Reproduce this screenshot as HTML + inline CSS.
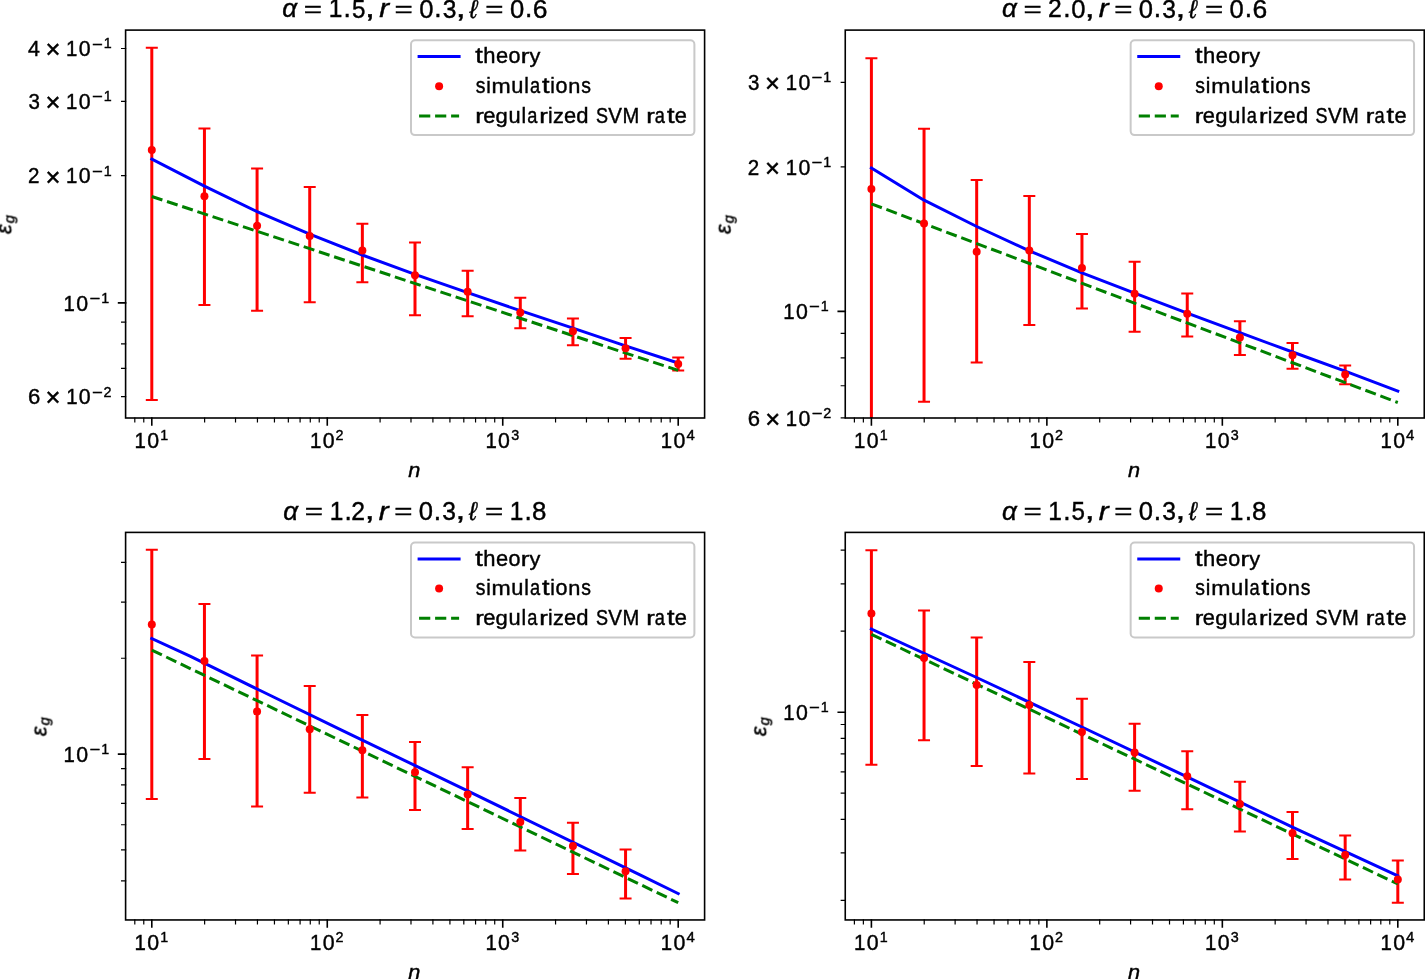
<!DOCTYPE html><html><head><meta charset="utf-8"><title>figure</title><style>html,body{margin:0;padding:0;background:#fff;}svg{display:block;font-family:"Liberation Sans",sans-serif;}</style></head><body>
<svg width="1425" height="979" viewBox="0 0 1425 979">
<rect x="0" y="0" width="1425" height="979" fill="#fff"/>
<clipPath id="clipTL"><rect x="125.60" y="30.10" width="579.00" height="387.90"/></clipPath>
<g clip-path="url(#clipTL)">
<path d="M151.80 47.80V400.00M204.44 128.50V304.90M257.08 168.50V310.80M309.72 186.90V302.20M362.36 223.70V282.20M415.00 242.50V315.20M467.65 270.80V316.20M520.29 297.70V328.30M572.93 318.50V345.30M625.57 338.00V358.70M678.21 357.40V370.40" stroke="#ff0000" stroke-width="3" fill="none"/>
<path d="M145.80 47.80H157.80M145.80 400.00H157.80M198.44 128.50H210.44M198.44 304.90H210.44M251.08 168.50H263.08M251.08 310.80H263.08M303.72 186.90H315.72M303.72 302.20H315.72M356.36 223.70H368.36M356.36 282.20H368.36M409.00 242.50H421.00M409.00 315.20H421.00M461.65 270.80H473.65M461.65 316.20H473.65M514.29 297.70H526.29M514.29 328.30H526.29M566.93 318.50H578.93M566.93 345.30H578.93M619.57 338.00H631.57M619.57 358.70H631.57M672.21 357.40H684.21M672.21 370.40H684.21" stroke="#ff0000" stroke-width="2" fill="none"/>
<path d="M151.80 159.20 L204.44 186.20 L257.08 211.70 L309.72 234.20 L362.36 255.00 L415.00 274.30 L467.65 292.70 L520.29 310.70 L572.93 328.20 L625.57 345.80 L678.21 363.00" stroke="#0000ff" stroke-width="3" fill="none" stroke-linecap="square" stroke-linejoin="round"/>
<path d="M151.80 196.50L678.21 370.40" stroke="#008000" stroke-width="3" fill="none" stroke-dasharray="11.17 4.83"/>
<g fill="#ff0000"><circle cx="151.80" cy="150.00" r="4"/><circle cx="204.44" cy="196.30" r="4"/><circle cx="257.08" cy="225.80" r="4"/><circle cx="309.72" cy="235.90" r="4"/><circle cx="362.36" cy="250.60" r="4"/><circle cx="415.00" cy="275.30" r="4"/><circle cx="467.65" cy="291.70" r="4"/><circle cx="520.29" cy="312.50" r="4"/><circle cx="572.93" cy="331.30" r="4"/><circle cx="625.57" cy="348.20" r="4"/><circle cx="678.21" cy="364.00" r="4"/></g>
</g>
<rect x="125.60" y="30.10" width="579.00" height="387.90" fill="none" stroke="#000" stroke-width="1.6" stroke-linejoin="miter"/>
<path d="M151.80 418.00v7M327.27 418.00v7M502.74 418.00v7M678.21 418.00v7M125.60 302.87h-7" stroke="#000" stroke-width="1.6" fill="none" stroke-linecap="square"/>
<path d="M134.80 418.00v4M143.77 418.00v4M204.62 418.00v4M235.52 418.00v4M257.44 418.00v4M274.45 418.00v4M288.34 418.00v4M300.09 418.00v4M310.27 418.00v4M319.24 418.00v4M380.09 418.00v4M410.99 418.00v4M432.91 418.00v4M449.92 418.00v4M463.81 418.00v4M475.56 418.00v4M485.74 418.00v4M494.71 418.00v4M555.56 418.00v4M586.46 418.00v4M608.38 418.00v4M625.39 418.00v4M639.28 418.00v4M651.03 418.00v4M661.21 418.00v4M670.18 418.00v4M125.60 396.60h-4M125.60 368.32h-4M125.60 343.81h-4M125.60 322.20h-4M125.60 175.68h-4M125.60 101.29h-4M125.60 48.50h-4" stroke="#000" stroke-width="1.2" fill="none" stroke-linecap="square"/>
<g style="will-change:transform"><text transform="matrix(1.0068 0 0 1.0596 134.45 447.85)" font-size="20.24" fill="#000" stroke="#000" stroke-width="0.4">1</text><text transform="matrix(1.0541 0 0 1.0683 147.16 447.93)" font-size="20.24" fill="#000" stroke="#000" stroke-width="0.4">0</text><text transform="matrix(1.0068 0 0 1.0596 160.21 440.19)" font-size="14.17" fill="#000" stroke="#000" stroke-width="0.4">1</text><text transform="matrix(1.0068 0 0 1.0596 309.92 447.85)" font-size="20.24" fill="#000" stroke="#000" stroke-width="0.4">1</text><text transform="matrix(1.0541 0 0 1.0683 322.63 447.93)" font-size="20.24" fill="#000" stroke="#000" stroke-width="0.4">0</text><text transform="matrix(1.0161 0 0 1.0629 335.52 440.19)" font-size="14.17" fill="#000" stroke="#000" stroke-width="0.4">2</text><text transform="matrix(1.0068 0 0 1.0596 485.39 447.85)" font-size="20.24" fill="#000" stroke="#000" stroke-width="0.4">1</text><text transform="matrix(1.0541 0 0 1.0683 498.10 447.93)" font-size="20.24" fill="#000" stroke="#000" stroke-width="0.4">0</text><text transform="matrix(1.0124 0 0 1.0683 511.21 440.25)" font-size="14.17" fill="#000" stroke="#000" stroke-width="0.4">3</text><text transform="matrix(1.0068 0 0 1.0596 660.86 447.85)" font-size="20.24" fill="#000" stroke="#000" stroke-width="0.4">1</text><text transform="matrix(1.0541 0 0 1.0683 673.57 447.93)" font-size="20.24" fill="#000" stroke="#000" stroke-width="0.4">0</text><text transform="matrix(1.0543 0 0 1.0596 686.49 440.19)" font-size="14.17" fill="#000" stroke="#000" stroke-width="0.4">4</text><text transform="matrix(1.0068 0 0 1.0596 63.53 310.52)" font-size="20.24" fill="#000" stroke="#000" stroke-width="0.4">1</text><text transform="matrix(1.0541 0 0 1.0683 76.24 310.60)" font-size="20.24" fill="#000" stroke="#000" stroke-width="0.4">0</text><text transform="matrix(1.2884 0 0 1.1644 89.42 303.91)" font-size="14.17" fill="#000" stroke="#000" stroke-width="0.4">−</text><text transform="matrix(1.0068 0 0 1.0596 101.16 302.86)" font-size="14.17" fill="#000" stroke="#000" stroke-width="0.4">1</text><text transform="matrix(1.0910 0 0 1.0683 28.02 404.33)" font-size="20.24" fill="#000" stroke="#000" stroke-width="0.4">6</text><text transform="matrix(1.2651 0 0 1.2670 45.56 406.45)" font-size="20.24" fill="#000" stroke="#000" stroke-width="0.4">×</text><text transform="matrix(1.0068 0 0 1.0596 66.14 404.25)" font-size="20.24" fill="#000" stroke="#000" stroke-width="0.4">1</text><text transform="matrix(1.0541 0 0 1.0683 78.85 404.33)" font-size="20.24" fill="#000" stroke="#000" stroke-width="0.4">0</text><text transform="matrix(1.2884 0 0 1.1644 92.03 397.64)" font-size="14.17" fill="#000" stroke="#000" stroke-width="0.4">−</text><text transform="matrix(1.0161 0 0 1.0629 103.62 396.59)" font-size="14.17" fill="#000" stroke="#000" stroke-width="0.4">2</text><text transform="matrix(1.0161 0 0 1.0629 28.06 183.33)" font-size="20.24" fill="#000" stroke="#000" stroke-width="0.4">2</text><text transform="matrix(1.2651 0 0 1.2670 45.45 185.53)" font-size="20.24" fill="#000" stroke="#000" stroke-width="0.4">×</text><text transform="matrix(1.0068 0 0 1.0596 66.03 183.33)" font-size="20.24" fill="#000" stroke="#000" stroke-width="0.4">1</text><text transform="matrix(1.0541 0 0 1.0683 78.74 183.41)" font-size="20.24" fill="#000" stroke="#000" stroke-width="0.4">0</text><text transform="matrix(1.2884 0 0 1.1644 91.92 176.72)" font-size="14.17" fill="#000" stroke="#000" stroke-width="0.4">−</text><text transform="matrix(1.0068 0 0 1.0596 103.66 175.68)" font-size="14.17" fill="#000" stroke="#000" stroke-width="0.4">1</text><text transform="matrix(1.0124 0 0 1.0683 28.38 109.01)" font-size="20.24" fill="#000" stroke="#000" stroke-width="0.4">3</text><text transform="matrix(1.2651 0 0 1.2670 45.45 111.13)" font-size="20.24" fill="#000" stroke="#000" stroke-width="0.4">×</text><text transform="matrix(1.0068 0 0 1.0596 66.03 108.94)" font-size="20.24" fill="#000" stroke="#000" stroke-width="0.4">1</text><text transform="matrix(1.0541 0 0 1.0683 78.74 109.01)" font-size="20.24" fill="#000" stroke="#000" stroke-width="0.4">0</text><text transform="matrix(1.2884 0 0 1.1644 91.92 102.32)" font-size="14.17" fill="#000" stroke="#000" stroke-width="0.4">−</text><text transform="matrix(1.0068 0 0 1.0596 103.66 101.28)" font-size="14.17" fill="#000" stroke="#000" stroke-width="0.4">1</text><text transform="matrix(1.0543 0 0 1.0596 28.11 56.15)" font-size="20.24" fill="#000" stroke="#000" stroke-width="0.4">4</text><text transform="matrix(1.2651 0 0 1.2670 45.45 58.34)" font-size="20.24" fill="#000" stroke="#000" stroke-width="0.4">×</text><text transform="matrix(1.0068 0 0 1.0596 66.03 56.15)" font-size="20.24" fill="#000" stroke="#000" stroke-width="0.4">1</text><text transform="matrix(1.0541 0 0 1.0683 78.74 56.23)" font-size="20.24" fill="#000" stroke="#000" stroke-width="0.4">0</text><text transform="matrix(1.2884 0 0 1.1644 91.92 49.54)" font-size="14.17" fill="#000" stroke="#000" stroke-width="0.4">−</text><text transform="matrix(1.0068 0 0 1.0596 103.66 48.49)" font-size="14.17" fill="#000" stroke="#000" stroke-width="0.4">1</text><text transform="matrix(1.0741 0 0 1.0418 408.35 477.00)" font-size="20.24" font-style="italic" fill="#000" stroke="#000" stroke-width="0.4">n</text><text transform="matrix(1.0721 0 0 1.0429 282.30 17.49)" font-size="24.29" font-style="italic" fill="#000" stroke="#000" stroke-width="0.4">α</text><text transform="matrix(1.2884 0 0 0.8758 303.86 16.85)" font-size="24.29" fill="#000" stroke="#000" stroke-width="0.4">=</text><text transform="matrix(1.0068 0 0 1.0596 328.66 17.45)" font-size="24.29" fill="#000" stroke="#000" stroke-width="0.4">1</text><text transform="matrix(1.0821 0 0 1.1598 343.48 17.45)" font-size="24.29" fill="#000" stroke="#000" stroke-width="0.4">.</text><text transform="matrix(0.9949 0 0 1.0651 351.90 17.54)" font-size="24.29" fill="#000" stroke="#000" stroke-width="0.4">5</text><text transform="matrix(1.4577 0 0 1.0229 365.11 17.09)" font-size="24.29" fill="#000" stroke="#000" stroke-width="0.4">,</text><text transform="matrix(1.2218 0 0 1.0408 379.21 17.45)" font-size="24.29" font-style="italic" fill="#000" stroke="#000" stroke-width="0.4">r</text><text transform="matrix(1.2884 0 0 0.8758 394.59 16.85)" font-size="24.29" fill="#000" stroke="#000" stroke-width="0.4">=</text><text transform="matrix(1.0541 0 0 1.0683 419.19 17.54)" font-size="24.29" fill="#000" stroke="#000" stroke-width="0.4">0</text><text transform="matrix(1.0821 0 0 1.1598 434.22 17.45)" font-size="24.29" fill="#000" stroke="#000" stroke-width="0.4">.</text><text transform="matrix(1.0124 0 0 1.0683 442.64 17.54)" font-size="24.29" fill="#000" stroke="#000" stroke-width="0.4">3</text><text transform="matrix(1.4577 0 0 1.0229 455.85 17.09)" font-size="24.29" fill="#000" stroke="#000" stroke-width="0.4">,</text><text transform="matrix(1.0027 0 0 1.0690 469.41 17.54)" font-size="24.29" font-style="italic" fill="#000" stroke="#000" stroke-width="0.4">ℓ</text><text transform="matrix(1.2884 0 0 0.8758 485.37 16.85)" font-size="24.29" fill="#000" stroke="#000" stroke-width="0.4">=</text><text transform="matrix(1.0541 0 0 1.0683 509.97 17.54)" font-size="24.29" fill="#000" stroke="#000" stroke-width="0.4">0</text><text transform="matrix(1.0821 0 0 1.1598 525.00 17.45)" font-size="24.29" fill="#000" stroke="#000" stroke-width="0.4">.</text><text transform="matrix(1.0910 0 0 1.0683 532.86 17.54)" font-size="24.29" fill="#000" stroke="#000" stroke-width="0.4">6</text></g>
<g style="will-change:transform" transform="translate(11.40 234.55) rotate(-90)"><text transform="matrix(1.0730 0 0 1.0500 0.43 0.08)" font-size="20.24" font-style="italic" fill="#000" stroke="#000" stroke-width="0.4">ε</text><text transform="matrix(1.0340 0 0 1.0308 11.37 3.20)" font-size="14.17" font-style="italic" fill="#000" stroke="#000" stroke-width="0.4">g</text></g>
<rect x="411.00" y="40.25" width="283.40" height="94.85" rx="4" ry="4" fill="#fff" fill-opacity="0.8" stroke="#c9c9c9" stroke-width="2.0"/>
<path d="M419.10 56.60H459.10" stroke="#0000ff" stroke-width="3" stroke-linecap="square"/>
<circle cx="439.10" cy="86.30" r="4" fill="#ff0000"/>
<path d="M419.10 115.90H459.10" stroke="#008000" stroke-width="3" stroke-dasharray="11.17 4.83"/>
<g style="will-change:transform"><text transform="matrix(1.3365 0 0 1.0731 475.23 63.23)" font-size="20.24" fill="#000" stroke="#000" stroke-width="0.4">t</text><text transform="matrix(1.0856 0 0 1.0485 483.35 63.40)" font-size="20.24" fill="#000" stroke="#000" stroke-width="0.4">h</text><text transform="matrix(1.0801 0 0 1.0481 496.05 63.48)" font-size="20.24" fill="#000" stroke="#000" stroke-width="0.4">e</text><text transform="matrix(1.0631 0 0 1.0481 508.53 63.48)" font-size="20.24" fill="#000" stroke="#000" stroke-width="0.4">o</text><text transform="matrix(1.2812 0 0 1.0408 520.82 63.40)" font-size="20.24" fill="#000" stroke="#000" stroke-width="0.4">r</text><text transform="matrix(1.0739 0 0 1.0259 529.57 63.30)" font-size="20.24" fill="#000" stroke="#000" stroke-width="0.4">y</text><text transform="matrix(0.9586 0 0 1.0509 475.66 93.18)" font-size="20.24" fill="#000" stroke="#000" stroke-width="0.4">s</text><text transform="matrix(1.0222 0 0 1.0485 486.17 93.10)" font-size="20.24" fill="#000" stroke="#000" stroke-width="0.4">i</text><text transform="matrix(1.1394 0 0 1.0408 491.58 93.10)" font-size="20.24" fill="#000" stroke="#000" stroke-width="0.4">m</text><text transform="matrix(1.0782 0 0 1.0672 511.29 93.18)" font-size="20.24" fill="#000" stroke="#000" stroke-width="0.4">u</text><text transform="matrix(1.0222 0 0 1.0485 524.33 93.10)" font-size="20.24" fill="#000" stroke="#000" stroke-width="0.4">l</text><text transform="matrix(0.8992 0 0 1.0481 529.88 93.18)" font-size="20.24" fill="#000" stroke="#000" stroke-width="0.4">a</text><text transform="matrix(1.3365 0 0 1.0731 541.97 92.93)" font-size="20.24" fill="#000" stroke="#000" stroke-width="0.4">t</text><text transform="matrix(1.0222 0 0 1.0485 550.30 93.10)" font-size="20.24" fill="#000" stroke="#000" stroke-width="0.4">i</text><text transform="matrix(1.0631 0 0 1.0481 555.61 93.18)" font-size="20.24" fill="#000" stroke="#000" stroke-width="0.4">o</text><text transform="matrix(1.0782 0 0 1.0408 568.17 93.10)" font-size="20.24" fill="#000" stroke="#000" stroke-width="0.4">n</text><text transform="matrix(0.9586 0 0 1.0509 581.17 93.18)" font-size="20.24" fill="#000" stroke="#000" stroke-width="0.4">s</text><text transform="matrix(1.2812 0 0 1.0408 475.22 122.70)" font-size="20.24" fill="#000" stroke="#000" stroke-width="0.4">r</text><text transform="matrix(1.0801 0 0 1.0481 483.16 122.78)" font-size="20.24" fill="#000" stroke="#000" stroke-width="0.4">e</text><text transform="matrix(1.0869 0 0 1.0322 495.62 122.57)" font-size="20.24" fill="#000" stroke="#000" stroke-width="0.4">g</text><text transform="matrix(1.0782 0 0 1.0672 508.58 122.78)" font-size="20.24" fill="#000" stroke="#000" stroke-width="0.4">u</text><text transform="matrix(1.0222 0 0 1.0485 521.62 122.70)" font-size="20.24" fill="#000" stroke="#000" stroke-width="0.4">l</text><text transform="matrix(0.8992 0 0 1.0481 527.17 122.78)" font-size="20.24" fill="#000" stroke="#000" stroke-width="0.4">a</text><text transform="matrix(1.2812 0 0 1.0408 539.25 122.70)" font-size="20.24" fill="#000" stroke="#000" stroke-width="0.4">r</text><text transform="matrix(1.0222 0 0 1.0485 547.98 122.70)" font-size="20.24" fill="#000" stroke="#000" stroke-width="0.4">i</text><text transform="matrix(1.0715 0 0 1.0351 553.07 122.70)" font-size="20.24" fill="#000" stroke="#000" stroke-width="0.4">z</text><text transform="matrix(1.0801 0 0 1.0481 563.89 122.78)" font-size="20.24" fill="#000" stroke="#000" stroke-width="0.4">e</text><text transform="matrix(1.0869 0 0 1.0539 576.34 122.78)" font-size="20.24" fill="#000" stroke="#000" stroke-width="0.4">d</text><text transform="matrix(0.8914 0 0 1.0683 595.95 122.78)" font-size="20.24" fill="#000" stroke="#000" stroke-width="0.4">S</text><text transform="matrix(1.0148 0 0 1.0596 608.35 122.70)" font-size="20.24" fill="#000" stroke="#000" stroke-width="0.4">V</text><text transform="matrix(0.9971 0 0 1.0596 622.46 122.70)" font-size="20.24" fill="#000" stroke="#000" stroke-width="0.4">M</text><text transform="matrix(1.2812 0 0 1.0408 646.14 122.70)" font-size="20.24" fill="#000" stroke="#000" stroke-width="0.4">r</text><text transform="matrix(0.8992 0 0 1.0481 654.79 122.78)" font-size="20.24" fill="#000" stroke="#000" stroke-width="0.4">a</text><text transform="matrix(1.3365 0 0 1.0731 666.88 122.53)" font-size="20.24" fill="#000" stroke="#000" stroke-width="0.4">t</text><text transform="matrix(1.0801 0 0 1.0481 674.87 122.78)" font-size="20.24" fill="#000" stroke="#000" stroke-width="0.4">e</text></g>
<clipPath id="clipTR"><rect x="845.25" y="30.10" width="579.00" height="387.90"/></clipPath>
<g clip-path="url(#clipTR)">
<path d="M871.40 58.20V600.00M924.04 128.80V401.70M976.68 180.10V362.50M1029.32 196.00V325.00M1081.96 233.90V308.50M1134.61 261.70V331.80M1187.25 293.50V336.50M1239.89 321.20V354.90M1292.53 343.00V368.80M1345.17 365.60V384.20" stroke="#ff0000" stroke-width="3" fill="none"/>
<path d="M865.40 58.20H877.40M865.40 600.00H877.40M918.04 128.80H930.04M918.04 401.70H930.04M970.68 180.10H982.68M970.68 362.50H982.68M1023.32 196.00H1035.32M1023.32 325.00H1035.32M1075.96 233.90H1087.96M1075.96 308.50H1087.96M1128.61 261.70H1140.61M1128.61 331.80H1140.61M1181.25 293.50H1193.25M1181.25 336.50H1193.25M1233.89 321.20H1245.89M1233.89 354.90H1245.89M1286.53 343.00H1298.53M1286.53 368.80H1298.53M1339.17 365.60H1351.17M1339.17 384.20H1351.17" stroke="#ff0000" stroke-width="2" fill="none"/>
<path d="M871.40 168.10 L924.04 200.20 L976.68 226.50 L1029.32 250.80 L1081.96 272.80 L1134.61 293.20 L1187.25 313.20 L1239.89 332.70 L1292.53 352.00 L1345.17 371.20 L1397.81 391.10" stroke="#0000ff" stroke-width="3" fill="none" stroke-linecap="square" stroke-linejoin="round"/>
<path d="M871.40 203.80L1397.81 402.50" stroke="#008000" stroke-width="3" fill="none" stroke-dasharray="11.17 4.83"/>
<g fill="#ff0000"><circle cx="871.40" cy="189.10" r="4"/><circle cx="924.04" cy="223.40" r="4"/><circle cx="976.68" cy="251.70" r="4"/><circle cx="1029.32" cy="250.50" r="4"/><circle cx="1081.96" cy="268.00" r="4"/><circle cx="1134.61" cy="293.70" r="4"/><circle cx="1187.25" cy="313.70" r="4"/><circle cx="1239.89" cy="337.60" r="4"/><circle cx="1292.53" cy="355.30" r="4"/><circle cx="1345.17" cy="374.50" r="4"/></g>
</g>
<rect x="845.25" y="30.10" width="579.00" height="387.90" fill="none" stroke="#000" stroke-width="1.6" stroke-linejoin="miter"/>
<path d="M871.40 418.00v7M1046.87 418.00v7M1222.34 418.00v7M1397.81 418.00v7M845.25 311.42h-7" stroke="#000" stroke-width="1.6" fill="none" stroke-linecap="square"/>
<path d="M854.40 418.00v4M863.37 418.00v4M924.22 418.00v4M955.12 418.00v4M977.04 418.00v4M994.05 418.00v4M1007.94 418.00v4M1019.69 418.00v4M1029.87 418.00v4M1038.84 418.00v4M1099.69 418.00v4M1130.59 418.00v4M1152.51 418.00v4M1169.52 418.00v4M1183.41 418.00v4M1195.16 418.00v4M1205.34 418.00v4M1214.31 418.00v4M1275.16 418.00v4M1306.06 418.00v4M1327.98 418.00v4M1344.99 418.00v4M1358.88 418.00v4M1370.63 418.00v4M1380.81 418.00v4M1389.78 418.00v4M845.25 417.91h-4M845.25 385.77h-4M845.25 357.94h-4M845.25 333.38h-4M845.25 166.93h-4M845.25 82.40h-4" stroke="#000" stroke-width="1.2" fill="none" stroke-linecap="square"/>
<g style="will-change:transform"><text transform="matrix(1.0068 0 0 1.0596 854.05 447.85)" font-size="20.24" fill="#000" stroke="#000" stroke-width="0.4">1</text><text transform="matrix(1.0541 0 0 1.0683 866.76 447.93)" font-size="20.24" fill="#000" stroke="#000" stroke-width="0.4">0</text><text transform="matrix(1.0068 0 0 1.0596 879.81 440.19)" font-size="14.17" fill="#000" stroke="#000" stroke-width="0.4">1</text><text transform="matrix(1.0068 0 0 1.0596 1029.52 447.85)" font-size="20.24" fill="#000" stroke="#000" stroke-width="0.4">1</text><text transform="matrix(1.0541 0 0 1.0683 1042.23 447.93)" font-size="20.24" fill="#000" stroke="#000" stroke-width="0.4">0</text><text transform="matrix(1.0161 0 0 1.0629 1055.12 440.19)" font-size="14.17" fill="#000" stroke="#000" stroke-width="0.4">2</text><text transform="matrix(1.0068 0 0 1.0596 1204.99 447.85)" font-size="20.24" fill="#000" stroke="#000" stroke-width="0.4">1</text><text transform="matrix(1.0541 0 0 1.0683 1217.70 447.93)" font-size="20.24" fill="#000" stroke="#000" stroke-width="0.4">0</text><text transform="matrix(1.0124 0 0 1.0683 1230.81 440.25)" font-size="14.17" fill="#000" stroke="#000" stroke-width="0.4">3</text><text transform="matrix(1.0068 0 0 1.0596 1380.46 447.85)" font-size="20.24" fill="#000" stroke="#000" stroke-width="0.4">1</text><text transform="matrix(1.0541 0 0 1.0683 1393.17 447.93)" font-size="20.24" fill="#000" stroke="#000" stroke-width="0.4">0</text><text transform="matrix(1.0543 0 0 1.0596 1406.09 440.19)" font-size="14.17" fill="#000" stroke="#000" stroke-width="0.4">4</text><text transform="matrix(1.0068 0 0 1.0596 783.18 319.07)" font-size="20.24" fill="#000" stroke="#000" stroke-width="0.4">1</text><text transform="matrix(1.0541 0 0 1.0683 795.89 319.15)" font-size="20.24" fill="#000" stroke="#000" stroke-width="0.4">0</text><text transform="matrix(1.2884 0 0 1.1644 809.07 312.46)" font-size="14.17" fill="#000" stroke="#000" stroke-width="0.4">−</text><text transform="matrix(1.0068 0 0 1.0596 820.81 311.41)" font-size="14.17" fill="#000" stroke="#000" stroke-width="0.4">1</text><text transform="matrix(1.0910 0 0 1.0683 747.67 425.63)" font-size="20.24" fill="#000" stroke="#000" stroke-width="0.4">6</text><text transform="matrix(1.2651 0 0 1.2670 765.21 427.75)" font-size="20.24" fill="#000" stroke="#000" stroke-width="0.4">×</text><text transform="matrix(1.0068 0 0 1.0596 785.79 425.56)" font-size="20.24" fill="#000" stroke="#000" stroke-width="0.4">1</text><text transform="matrix(1.0541 0 0 1.0683 798.50 425.63)" font-size="20.24" fill="#000" stroke="#000" stroke-width="0.4">0</text><text transform="matrix(1.2884 0 0 1.1644 811.68 418.95)" font-size="14.17" fill="#000" stroke="#000" stroke-width="0.4">−</text><text transform="matrix(1.0161 0 0 1.0629 823.27 417.90)" font-size="14.17" fill="#000" stroke="#000" stroke-width="0.4">2</text><text transform="matrix(1.0161 0 0 1.0629 747.71 174.58)" font-size="20.24" fill="#000" stroke="#000" stroke-width="0.4">2</text><text transform="matrix(1.2651 0 0 1.2670 765.10 176.77)" font-size="20.24" fill="#000" stroke="#000" stroke-width="0.4">×</text><text transform="matrix(1.0068 0 0 1.0596 785.68 174.58)" font-size="20.24" fill="#000" stroke="#000" stroke-width="0.4">1</text><text transform="matrix(1.0541 0 0 1.0683 798.39 174.65)" font-size="20.24" fill="#000" stroke="#000" stroke-width="0.4">0</text><text transform="matrix(1.2884 0 0 1.1644 811.57 167.96)" font-size="14.17" fill="#000" stroke="#000" stroke-width="0.4">−</text><text transform="matrix(1.0068 0 0 1.0596 823.31 166.92)" font-size="14.17" fill="#000" stroke="#000" stroke-width="0.4">1</text><text transform="matrix(1.0124 0 0 1.0683 748.03 90.13)" font-size="20.24" fill="#000" stroke="#000" stroke-width="0.4">3</text><text transform="matrix(1.2651 0 0 1.2670 765.10 92.25)" font-size="20.24" fill="#000" stroke="#000" stroke-width="0.4">×</text><text transform="matrix(1.0068 0 0 1.0596 785.68 90.05)" font-size="20.24" fill="#000" stroke="#000" stroke-width="0.4">1</text><text transform="matrix(1.0541 0 0 1.0683 798.39 90.13)" font-size="20.24" fill="#000" stroke="#000" stroke-width="0.4">0</text><text transform="matrix(1.2884 0 0 1.1644 811.57 83.44)" font-size="14.17" fill="#000" stroke="#000" stroke-width="0.4">−</text><text transform="matrix(1.0068 0 0 1.0596 823.31 82.40)" font-size="14.17" fill="#000" stroke="#000" stroke-width="0.4">1</text><text transform="matrix(1.0741 0 0 1.0418 1128.00 477.00)" font-size="20.24" font-style="italic" fill="#000" stroke="#000" stroke-width="0.4">n</text><text transform="matrix(1.0721 0 0 1.0429 1001.95 17.49)" font-size="24.29" font-style="italic" fill="#000" stroke="#000" stroke-width="0.4">α</text><text transform="matrix(1.2884 0 0 0.8758 1023.51 16.85)" font-size="24.29" fill="#000" stroke="#000" stroke-width="0.4">=</text><text transform="matrix(1.0161 0 0 1.0629 1048.04 17.45)" font-size="24.29" fill="#000" stroke="#000" stroke-width="0.4">2</text><text transform="matrix(1.0821 0 0 1.1598 1063.13 17.45)" font-size="24.29" fill="#000" stroke="#000" stroke-width="0.4">.</text><text transform="matrix(1.0541 0 0 1.0683 1071.24 17.54)" font-size="24.29" fill="#000" stroke="#000" stroke-width="0.4">0</text><text transform="matrix(1.4577 0 0 1.0229 1084.76 17.09)" font-size="24.29" fill="#000" stroke="#000" stroke-width="0.4">,</text><text transform="matrix(1.2218 0 0 1.0408 1098.86 17.45)" font-size="24.29" font-style="italic" fill="#000" stroke="#000" stroke-width="0.4">r</text><text transform="matrix(1.2884 0 0 0.8758 1114.24 16.85)" font-size="24.29" fill="#000" stroke="#000" stroke-width="0.4">=</text><text transform="matrix(1.0541 0 0 1.0683 1138.84 17.54)" font-size="24.29" fill="#000" stroke="#000" stroke-width="0.4">0</text><text transform="matrix(1.0821 0 0 1.1598 1153.87 17.45)" font-size="24.29" fill="#000" stroke="#000" stroke-width="0.4">.</text><text transform="matrix(1.0124 0 0 1.0683 1162.29 17.54)" font-size="24.29" fill="#000" stroke="#000" stroke-width="0.4">3</text><text transform="matrix(1.4577 0 0 1.0229 1175.50 17.09)" font-size="24.29" fill="#000" stroke="#000" stroke-width="0.4">,</text><text transform="matrix(1.0027 0 0 1.0690 1189.06 17.54)" font-size="24.29" font-style="italic" fill="#000" stroke="#000" stroke-width="0.4">ℓ</text><text transform="matrix(1.2884 0 0 0.8758 1205.02 16.85)" font-size="24.29" fill="#000" stroke="#000" stroke-width="0.4">=</text><text transform="matrix(1.0541 0 0 1.0683 1229.62 17.54)" font-size="24.29" fill="#000" stroke="#000" stroke-width="0.4">0</text><text transform="matrix(1.0821 0 0 1.1598 1244.65 17.45)" font-size="24.29" fill="#000" stroke="#000" stroke-width="0.4">.</text><text transform="matrix(1.0910 0 0 1.0683 1252.51 17.54)" font-size="24.29" fill="#000" stroke="#000" stroke-width="0.4">6</text></g>
<g style="will-change:transform" transform="translate(730.70 234.55) rotate(-90)"><text transform="matrix(1.0730 0 0 1.0500 0.43 0.08)" font-size="20.24" font-style="italic" fill="#000" stroke="#000" stroke-width="0.4">ε</text><text transform="matrix(1.0340 0 0 1.0308 11.37 3.20)" font-size="14.17" font-style="italic" fill="#000" stroke="#000" stroke-width="0.4">g</text></g>
<rect x="1130.65" y="40.25" width="283.40" height="94.85" rx="4" ry="4" fill="#fff" fill-opacity="0.8" stroke="#c9c9c9" stroke-width="2.0"/>
<path d="M1138.75 56.60H1178.75" stroke="#0000ff" stroke-width="3" stroke-linecap="square"/>
<circle cx="1158.75" cy="86.30" r="4" fill="#ff0000"/>
<path d="M1138.75 115.90H1178.75" stroke="#008000" stroke-width="3" stroke-dasharray="11.17 4.83"/>
<g style="will-change:transform"><text transform="matrix(1.3365 0 0 1.0731 1194.88 63.23)" font-size="20.24" fill="#000" stroke="#000" stroke-width="0.4">t</text><text transform="matrix(1.0856 0 0 1.0485 1203.00 63.40)" font-size="20.24" fill="#000" stroke="#000" stroke-width="0.4">h</text><text transform="matrix(1.0801 0 0 1.0481 1215.70 63.48)" font-size="20.24" fill="#000" stroke="#000" stroke-width="0.4">e</text><text transform="matrix(1.0631 0 0 1.0481 1228.18 63.48)" font-size="20.24" fill="#000" stroke="#000" stroke-width="0.4">o</text><text transform="matrix(1.2812 0 0 1.0408 1240.47 63.40)" font-size="20.24" fill="#000" stroke="#000" stroke-width="0.4">r</text><text transform="matrix(1.0739 0 0 1.0259 1249.22 63.30)" font-size="20.24" fill="#000" stroke="#000" stroke-width="0.4">y</text><text transform="matrix(0.9586 0 0 1.0509 1195.31 93.18)" font-size="20.24" fill="#000" stroke="#000" stroke-width="0.4">s</text><text transform="matrix(1.0222 0 0 1.0485 1205.82 93.10)" font-size="20.24" fill="#000" stroke="#000" stroke-width="0.4">i</text><text transform="matrix(1.1394 0 0 1.0408 1211.23 93.10)" font-size="20.24" fill="#000" stroke="#000" stroke-width="0.4">m</text><text transform="matrix(1.0782 0 0 1.0672 1230.94 93.18)" font-size="20.24" fill="#000" stroke="#000" stroke-width="0.4">u</text><text transform="matrix(1.0222 0 0 1.0485 1243.98 93.10)" font-size="20.24" fill="#000" stroke="#000" stroke-width="0.4">l</text><text transform="matrix(0.8992 0 0 1.0481 1249.53 93.18)" font-size="20.24" fill="#000" stroke="#000" stroke-width="0.4">a</text><text transform="matrix(1.3365 0 0 1.0731 1261.62 92.93)" font-size="20.24" fill="#000" stroke="#000" stroke-width="0.4">t</text><text transform="matrix(1.0222 0 0 1.0485 1269.95 93.10)" font-size="20.24" fill="#000" stroke="#000" stroke-width="0.4">i</text><text transform="matrix(1.0631 0 0 1.0481 1275.26 93.18)" font-size="20.24" fill="#000" stroke="#000" stroke-width="0.4">o</text><text transform="matrix(1.0782 0 0 1.0408 1287.82 93.10)" font-size="20.24" fill="#000" stroke="#000" stroke-width="0.4">n</text><text transform="matrix(0.9586 0 0 1.0509 1300.82 93.18)" font-size="20.24" fill="#000" stroke="#000" stroke-width="0.4">s</text><text transform="matrix(1.2812 0 0 1.0408 1194.87 122.70)" font-size="20.24" fill="#000" stroke="#000" stroke-width="0.4">r</text><text transform="matrix(1.0801 0 0 1.0481 1202.81 122.78)" font-size="20.24" fill="#000" stroke="#000" stroke-width="0.4">e</text><text transform="matrix(1.0869 0 0 1.0322 1215.27 122.57)" font-size="20.24" fill="#000" stroke="#000" stroke-width="0.4">g</text><text transform="matrix(1.0782 0 0 1.0672 1228.23 122.78)" font-size="20.24" fill="#000" stroke="#000" stroke-width="0.4">u</text><text transform="matrix(1.0222 0 0 1.0485 1241.27 122.70)" font-size="20.24" fill="#000" stroke="#000" stroke-width="0.4">l</text><text transform="matrix(0.8992 0 0 1.0481 1246.82 122.78)" font-size="20.24" fill="#000" stroke="#000" stroke-width="0.4">a</text><text transform="matrix(1.2812 0 0 1.0408 1258.90 122.70)" font-size="20.24" fill="#000" stroke="#000" stroke-width="0.4">r</text><text transform="matrix(1.0222 0 0 1.0485 1267.63 122.70)" font-size="20.24" fill="#000" stroke="#000" stroke-width="0.4">i</text><text transform="matrix(1.0715 0 0 1.0351 1272.72 122.70)" font-size="20.24" fill="#000" stroke="#000" stroke-width="0.4">z</text><text transform="matrix(1.0801 0 0 1.0481 1283.54 122.78)" font-size="20.24" fill="#000" stroke="#000" stroke-width="0.4">e</text><text transform="matrix(1.0869 0 0 1.0539 1295.99 122.78)" font-size="20.24" fill="#000" stroke="#000" stroke-width="0.4">d</text><text transform="matrix(0.8914 0 0 1.0683 1315.60 122.78)" font-size="20.24" fill="#000" stroke="#000" stroke-width="0.4">S</text><text transform="matrix(1.0148 0 0 1.0596 1328.00 122.70)" font-size="20.24" fill="#000" stroke="#000" stroke-width="0.4">V</text><text transform="matrix(0.9971 0 0 1.0596 1342.11 122.70)" font-size="20.24" fill="#000" stroke="#000" stroke-width="0.4">M</text><text transform="matrix(1.2812 0 0 1.0408 1365.79 122.70)" font-size="20.24" fill="#000" stroke="#000" stroke-width="0.4">r</text><text transform="matrix(0.8992 0 0 1.0481 1374.44 122.78)" font-size="20.24" fill="#000" stroke="#000" stroke-width="0.4">a</text><text transform="matrix(1.3365 0 0 1.0731 1386.53 122.53)" font-size="20.24" fill="#000" stroke="#000" stroke-width="0.4">t</text><text transform="matrix(1.0801 0 0 1.0481 1394.52 122.78)" font-size="20.24" fill="#000" stroke="#000" stroke-width="0.4">e</text></g>
<clipPath id="clipBL"><rect x="125.60" y="532.40" width="579.00" height="387.55"/></clipPath>
<g clip-path="url(#clipBL)">
<path d="M151.80 549.80V798.90M204.44 604.10V759.00M257.08 655.60V806.40M309.72 685.90V792.70M362.36 715.10V797.50M415.00 742.10V810.10M467.65 767.20V828.90M520.29 798.10V850.60M572.93 822.80V874.10M625.57 849.40V898.40" stroke="#ff0000" stroke-width="3" fill="none"/>
<path d="M145.80 549.80H157.80M145.80 798.90H157.80M198.44 604.10H210.44M198.44 759.00H210.44M251.08 655.60H263.08M251.08 806.40H263.08M303.72 685.90H315.72M303.72 792.70H315.72M356.36 715.10H368.36M356.36 797.50H368.36M409.00 742.10H421.00M409.00 810.10H421.00M461.65 767.20H473.65M461.65 828.90H473.65M514.29 798.10H526.29M514.29 850.60H526.29M566.93 822.80H578.93M566.93 874.10H578.93M619.57 849.40H631.57M619.57 898.40H631.57" stroke="#ff0000" stroke-width="2" fill="none"/>
<path d="M151.80 638.60 L190.00 656.20 L257.10 689.00 L340.00 729.30 L467.60 790.90 L640.00 874.80 L678.20 893.60" stroke="#0000ff" stroke-width="3" fill="none" stroke-linecap="square" stroke-linejoin="round"/>
<path d="M151.80 650.10L678.21 902.70" stroke="#008000" stroke-width="3" fill="none" stroke-dasharray="11.17 4.83"/>
<g fill="#ff0000"><circle cx="151.80" cy="624.60" r="4"/><circle cx="204.44" cy="660.90" r="4"/><circle cx="257.08" cy="711.40" r="4"/><circle cx="309.72" cy="729.30" r="4"/><circle cx="362.36" cy="750.30" r="4"/><circle cx="415.00" cy="772.30" r="4"/><circle cx="467.65" cy="794.50" r="4"/><circle cx="520.29" cy="821.90" r="4"/><circle cx="572.93" cy="845.90" r="4"/><circle cx="625.57" cy="871.30" r="4"/></g>
</g>
<rect x="125.60" y="532.40" width="579.00" height="387.55" fill="none" stroke="#000" stroke-width="1.6" stroke-linejoin="miter"/>
<path d="M151.80 919.95v7M327.27 919.95v7M502.74 919.95v7M678.21 919.95v7M125.60 754.10h-7" stroke="#000" stroke-width="1.6" fill="none" stroke-linecap="square"/>
<path d="M134.80 919.95v4M143.77 919.95v4M204.62 919.95v4M235.52 919.95v4M257.44 919.95v4M274.45 919.95v4M288.34 919.95v4M300.09 919.95v4M310.27 919.95v4M319.24 919.95v4M380.09 919.95v4M410.99 919.95v4M432.91 919.95v4M449.92 919.95v4M463.81 919.95v4M475.56 919.95v4M485.74 919.95v4M494.71 919.95v4M555.56 919.95v4M586.46 919.95v4M608.38 919.95v4M625.39 919.95v4M639.28 919.95v4M651.03 919.95v4M661.21 919.95v4M670.18 919.95v4M125.60 880.80h-4M125.60 849.95h-4M125.60 824.74h-4M125.60 803.42h-4M125.60 784.96h-4M125.60 768.67h-4M125.60 658.25h-4M125.60 602.18h-4M125.60 562.40h-4" stroke="#000" stroke-width="1.2" fill="none" stroke-linecap="square"/>
<g style="will-change:transform"><text transform="matrix(1.0068 0 0 1.0596 134.45 949.80)" font-size="20.24" fill="#000" stroke="#000" stroke-width="0.4">1</text><text transform="matrix(1.0541 0 0 1.0683 147.16 949.88)" font-size="20.24" fill="#000" stroke="#000" stroke-width="0.4">0</text><text transform="matrix(1.0068 0 0 1.0596 160.21 942.14)" font-size="14.17" fill="#000" stroke="#000" stroke-width="0.4">1</text><text transform="matrix(1.0068 0 0 1.0596 309.92 949.80)" font-size="20.24" fill="#000" stroke="#000" stroke-width="0.4">1</text><text transform="matrix(1.0541 0 0 1.0683 322.63 949.88)" font-size="20.24" fill="#000" stroke="#000" stroke-width="0.4">0</text><text transform="matrix(1.0161 0 0 1.0629 335.52 942.14)" font-size="14.17" fill="#000" stroke="#000" stroke-width="0.4">2</text><text transform="matrix(1.0068 0 0 1.0596 485.39 949.80)" font-size="20.24" fill="#000" stroke="#000" stroke-width="0.4">1</text><text transform="matrix(1.0541 0 0 1.0683 498.10 949.88)" font-size="20.24" fill="#000" stroke="#000" stroke-width="0.4">0</text><text transform="matrix(1.0124 0 0 1.0683 511.21 942.20)" font-size="14.17" fill="#000" stroke="#000" stroke-width="0.4">3</text><text transform="matrix(1.0068 0 0 1.0596 660.86 949.80)" font-size="20.24" fill="#000" stroke="#000" stroke-width="0.4">1</text><text transform="matrix(1.0541 0 0 1.0683 673.57 949.88)" font-size="20.24" fill="#000" stroke="#000" stroke-width="0.4">0</text><text transform="matrix(1.0543 0 0 1.0596 686.49 942.14)" font-size="14.17" fill="#000" stroke="#000" stroke-width="0.4">4</text><text transform="matrix(1.0068 0 0 1.0596 63.53 761.75)" font-size="20.24" fill="#000" stroke="#000" stroke-width="0.4">1</text><text transform="matrix(1.0541 0 0 1.0683 76.24 761.83)" font-size="20.24" fill="#000" stroke="#000" stroke-width="0.4">0</text><text transform="matrix(1.2884 0 0 1.1644 89.42 755.14)" font-size="14.17" fill="#000" stroke="#000" stroke-width="0.4">−</text><text transform="matrix(1.0068 0 0 1.0596 101.16 754.09)" font-size="14.17" fill="#000" stroke="#000" stroke-width="0.4">1</text><text transform="matrix(1.0741 0 0 1.0418 408.35 978.95)" font-size="20.24" font-style="italic" fill="#000" stroke="#000" stroke-width="0.4">n</text><text transform="matrix(1.0721 0 0 1.0429 283.30 519.79)" font-size="24.29" font-style="italic" fill="#000" stroke="#000" stroke-width="0.4">α</text><text transform="matrix(1.2884 0 0 0.8758 304.86 519.15)" font-size="24.29" fill="#000" stroke="#000" stroke-width="0.4">=</text><text transform="matrix(1.0068 0 0 1.0596 329.66 519.75)" font-size="24.29" fill="#000" stroke="#000" stroke-width="0.4">1</text><text transform="matrix(1.0821 0 0 1.1598 344.48 519.75)" font-size="24.29" fill="#000" stroke="#000" stroke-width="0.4">.</text><text transform="matrix(1.0161 0 0 1.0629 351.15 519.75)" font-size="24.29" fill="#000" stroke="#000" stroke-width="0.4">2</text><text transform="matrix(1.4577 0 0 1.0229 364.74 519.39)" font-size="24.29" fill="#000" stroke="#000" stroke-width="0.4">,</text><text transform="matrix(1.2218 0 0 1.0408 378.84 519.75)" font-size="24.29" font-style="italic" fill="#000" stroke="#000" stroke-width="0.4">r</text><text transform="matrix(1.2884 0 0 0.8758 394.22 519.15)" font-size="24.29" fill="#000" stroke="#000" stroke-width="0.4">=</text><text transform="matrix(1.0541 0 0 1.0683 418.82 519.84)" font-size="24.29" fill="#000" stroke="#000" stroke-width="0.4">0</text><text transform="matrix(1.0821 0 0 1.1598 433.84 519.75)" font-size="24.29" fill="#000" stroke="#000" stroke-width="0.4">.</text><text transform="matrix(1.0124 0 0 1.0683 442.26 519.84)" font-size="24.29" fill="#000" stroke="#000" stroke-width="0.4">3</text><text transform="matrix(1.4577 0 0 1.0229 455.47 519.39)" font-size="24.29" fill="#000" stroke="#000" stroke-width="0.4">,</text><text transform="matrix(1.0027 0 0 1.0690 469.04 519.84)" font-size="24.29" font-style="italic" fill="#000" stroke="#000" stroke-width="0.4">ℓ</text><text transform="matrix(1.2884 0 0 0.8758 485.00 519.15)" font-size="24.29" fill="#000" stroke="#000" stroke-width="0.4">=</text><text transform="matrix(1.0068 0 0 1.0596 509.80 519.75)" font-size="24.29" fill="#000" stroke="#000" stroke-width="0.4">1</text><text transform="matrix(1.0821 0 0 1.1598 524.62 519.75)" font-size="24.29" fill="#000" stroke="#000" stroke-width="0.4">.</text><text transform="matrix(1.0656 0 0 1.0683 532.03 519.84)" font-size="24.29" fill="#000" stroke="#000" stroke-width="0.4">8</text></g>
<g style="will-change:transform" transform="translate(46.50 736.67) rotate(-90)"><text transform="matrix(1.0730 0 0 1.0500 0.43 0.08)" font-size="20.24" font-style="italic" fill="#000" stroke="#000" stroke-width="0.4">ε</text><text transform="matrix(1.0340 0 0 1.0308 11.37 3.20)" font-size="14.17" font-style="italic" fill="#000" stroke="#000" stroke-width="0.4">g</text></g>
<rect x="411.00" y="542.55" width="283.40" height="94.85" rx="4" ry="4" fill="#fff" fill-opacity="0.8" stroke="#c9c9c9" stroke-width="2.0"/>
<path d="M419.10 558.90H459.10" stroke="#0000ff" stroke-width="3" stroke-linecap="square"/>
<circle cx="439.10" cy="588.60" r="4" fill="#ff0000"/>
<path d="M419.10 618.20H459.10" stroke="#008000" stroke-width="3" stroke-dasharray="11.17 4.83"/>
<g style="will-change:transform"><text transform="matrix(1.3365 0 0 1.0731 475.23 565.53)" font-size="20.24" fill="#000" stroke="#000" stroke-width="0.4">t</text><text transform="matrix(1.0856 0 0 1.0485 483.35 565.70)" font-size="20.24" fill="#000" stroke="#000" stroke-width="0.4">h</text><text transform="matrix(1.0801 0 0 1.0481 496.05 565.78)" font-size="20.24" fill="#000" stroke="#000" stroke-width="0.4">e</text><text transform="matrix(1.0631 0 0 1.0481 508.53 565.78)" font-size="20.24" fill="#000" stroke="#000" stroke-width="0.4">o</text><text transform="matrix(1.2812 0 0 1.0408 520.82 565.70)" font-size="20.24" fill="#000" stroke="#000" stroke-width="0.4">r</text><text transform="matrix(1.0739 0 0 1.0259 529.57 565.60)" font-size="20.24" fill="#000" stroke="#000" stroke-width="0.4">y</text><text transform="matrix(0.9586 0 0 1.0509 475.66 595.48)" font-size="20.24" fill="#000" stroke="#000" stroke-width="0.4">s</text><text transform="matrix(1.0222 0 0 1.0485 486.17 595.40)" font-size="20.24" fill="#000" stroke="#000" stroke-width="0.4">i</text><text transform="matrix(1.1394 0 0 1.0408 491.58 595.40)" font-size="20.24" fill="#000" stroke="#000" stroke-width="0.4">m</text><text transform="matrix(1.0782 0 0 1.0672 511.29 595.48)" font-size="20.24" fill="#000" stroke="#000" stroke-width="0.4">u</text><text transform="matrix(1.0222 0 0 1.0485 524.33 595.40)" font-size="20.24" fill="#000" stroke="#000" stroke-width="0.4">l</text><text transform="matrix(0.8992 0 0 1.0481 529.88 595.48)" font-size="20.24" fill="#000" stroke="#000" stroke-width="0.4">a</text><text transform="matrix(1.3365 0 0 1.0731 541.97 595.23)" font-size="20.24" fill="#000" stroke="#000" stroke-width="0.4">t</text><text transform="matrix(1.0222 0 0 1.0485 550.30 595.40)" font-size="20.24" fill="#000" stroke="#000" stroke-width="0.4">i</text><text transform="matrix(1.0631 0 0 1.0481 555.61 595.48)" font-size="20.24" fill="#000" stroke="#000" stroke-width="0.4">o</text><text transform="matrix(1.0782 0 0 1.0408 568.17 595.40)" font-size="20.24" fill="#000" stroke="#000" stroke-width="0.4">n</text><text transform="matrix(0.9586 0 0 1.0509 581.17 595.48)" font-size="20.24" fill="#000" stroke="#000" stroke-width="0.4">s</text><text transform="matrix(1.2812 0 0 1.0408 475.22 625.00)" font-size="20.24" fill="#000" stroke="#000" stroke-width="0.4">r</text><text transform="matrix(1.0801 0 0 1.0481 483.16 625.08)" font-size="20.24" fill="#000" stroke="#000" stroke-width="0.4">e</text><text transform="matrix(1.0869 0 0 1.0322 495.62 624.87)" font-size="20.24" fill="#000" stroke="#000" stroke-width="0.4">g</text><text transform="matrix(1.0782 0 0 1.0672 508.58 625.08)" font-size="20.24" fill="#000" stroke="#000" stroke-width="0.4">u</text><text transform="matrix(1.0222 0 0 1.0485 521.62 625.00)" font-size="20.24" fill="#000" stroke="#000" stroke-width="0.4">l</text><text transform="matrix(0.8992 0 0 1.0481 527.17 625.08)" font-size="20.24" fill="#000" stroke="#000" stroke-width="0.4">a</text><text transform="matrix(1.2812 0 0 1.0408 539.25 625.00)" font-size="20.24" fill="#000" stroke="#000" stroke-width="0.4">r</text><text transform="matrix(1.0222 0 0 1.0485 547.98 625.00)" font-size="20.24" fill="#000" stroke="#000" stroke-width="0.4">i</text><text transform="matrix(1.0715 0 0 1.0351 553.07 625.00)" font-size="20.24" fill="#000" stroke="#000" stroke-width="0.4">z</text><text transform="matrix(1.0801 0 0 1.0481 563.89 625.08)" font-size="20.24" fill="#000" stroke="#000" stroke-width="0.4">e</text><text transform="matrix(1.0869 0 0 1.0539 576.34 625.08)" font-size="20.24" fill="#000" stroke="#000" stroke-width="0.4">d</text><text transform="matrix(0.8914 0 0 1.0683 595.95 625.08)" font-size="20.24" fill="#000" stroke="#000" stroke-width="0.4">S</text><text transform="matrix(1.0148 0 0 1.0596 608.35 625.00)" font-size="20.24" fill="#000" stroke="#000" stroke-width="0.4">V</text><text transform="matrix(0.9971 0 0 1.0596 622.46 625.00)" font-size="20.24" fill="#000" stroke="#000" stroke-width="0.4">M</text><text transform="matrix(1.2812 0 0 1.0408 646.14 625.00)" font-size="20.24" fill="#000" stroke="#000" stroke-width="0.4">r</text><text transform="matrix(0.8992 0 0 1.0481 654.79 625.08)" font-size="20.24" fill="#000" stroke="#000" stroke-width="0.4">a</text><text transform="matrix(1.3365 0 0 1.0731 666.88 624.83)" font-size="20.24" fill="#000" stroke="#000" stroke-width="0.4">t</text><text transform="matrix(1.0801 0 0 1.0481 674.87 625.08)" font-size="20.24" fill="#000" stroke="#000" stroke-width="0.4">e</text></g>
<clipPath id="clipBR"><rect x="845.25" y="532.40" width="579.00" height="387.55"/></clipPath>
<g clip-path="url(#clipBR)">
<path d="M871.40 550.20V764.70M924.04 610.40V740.20M976.68 637.60V766.10M1029.32 662.10V773.50M1081.96 698.80V779.10M1134.61 723.80V790.80M1187.25 751.30V809.20M1239.89 781.80V831.40M1292.53 812.00V859.00M1345.17 835.50V879.40M1397.81 860.50V902.70" stroke="#ff0000" stroke-width="3" fill="none"/>
<path d="M865.40 550.20H877.40M865.40 764.70H877.40M918.04 610.40H930.04M918.04 740.20H930.04M970.68 637.60H982.68M970.68 766.10H982.68M1023.32 662.10H1035.32M1023.32 773.50H1035.32M1075.96 698.80H1087.96M1075.96 779.10H1087.96M1128.61 723.80H1140.61M1128.61 790.80H1140.61M1181.25 751.30H1193.25M1181.25 809.20H1193.25M1233.89 781.80H1245.89M1233.89 831.40H1245.89M1286.53 812.00H1298.53M1286.53 859.00H1298.53M1339.17 835.50H1351.17M1339.17 879.40H1351.17M1391.81 860.50H1403.81M1391.81 902.70H1403.81" stroke="#ff0000" stroke-width="2" fill="none"/>
<path d="M871.40 629.10 L976.60 677.50 L1081.90 727.00 L1187.10 776.90 L1292.40 827.10 L1397.60 875.80" stroke="#0000ff" stroke-width="3" fill="none" stroke-linecap="square" stroke-linejoin="round"/>
<path d="M871.40 634.30L1397.81 884.00" stroke="#008000" stroke-width="3" fill="none" stroke-dasharray="11.17 4.83"/>
<g fill="#ff0000"><circle cx="871.40" cy="613.50" r="4"/><circle cx="924.04" cy="658.00" r="4"/><circle cx="976.68" cy="685.10" r="4"/><circle cx="1029.32" cy="705.00" r="4"/><circle cx="1081.96" cy="732.10" r="4"/><circle cx="1134.61" cy="752.40" r="4"/><circle cx="1187.25" cy="776.30" r="4"/><circle cx="1239.89" cy="804.00" r="4"/><circle cx="1292.53" cy="833.20" r="4"/><circle cx="1345.17" cy="855.10" r="4"/><circle cx="1397.81" cy="879.60" r="4"/></g>
</g>
<rect x="845.25" y="532.40" width="579.00" height="387.55" fill="none" stroke="#000" stroke-width="1.6" stroke-linejoin="miter"/>
<path d="M871.40 919.95v7M1046.87 919.95v7M1222.34 919.95v7M1397.81 919.95v7M845.25 712.20h-7" stroke="#000" stroke-width="1.6" fill="none" stroke-linecap="square"/>
<path d="M854.40 919.95v4M863.37 919.95v4M924.22 919.95v4M955.12 919.95v4M977.04 919.95v4M994.05 919.95v4M1007.94 919.95v4M1019.69 919.95v4M1029.87 919.95v4M1038.84 919.95v4M1099.69 919.95v4M1130.59 919.95v4M1152.51 919.95v4M1169.52 919.95v4M1183.41 919.95v4M1195.16 919.95v4M1205.34 919.95v4M1214.31 919.95v4M1275.16 919.95v4M1306.06 919.95v4M1327.98 919.95v4M1344.99 919.95v4M1358.88 919.95v4M1370.63 919.95v4M1380.81 919.95v4M1389.78 919.95v4M845.25 900.29h-4M845.25 852.91h-4M845.25 819.29h-4M845.25 793.21h-4M845.25 771.90h-4M845.25 753.88h-4M845.25 738.28h-4M845.25 724.51h-4M845.25 631.19h-4M845.25 583.81h-4M845.25 550.19h-4" stroke="#000" stroke-width="1.2" fill="none" stroke-linecap="square"/>
<g style="will-change:transform"><text transform="matrix(1.0068 0 0 1.0596 854.05 949.80)" font-size="20.24" fill="#000" stroke="#000" stroke-width="0.4">1</text><text transform="matrix(1.0541 0 0 1.0683 866.76 949.88)" font-size="20.24" fill="#000" stroke="#000" stroke-width="0.4">0</text><text transform="matrix(1.0068 0 0 1.0596 879.81 942.14)" font-size="14.17" fill="#000" stroke="#000" stroke-width="0.4">1</text><text transform="matrix(1.0068 0 0 1.0596 1029.52 949.80)" font-size="20.24" fill="#000" stroke="#000" stroke-width="0.4">1</text><text transform="matrix(1.0541 0 0 1.0683 1042.23 949.88)" font-size="20.24" fill="#000" stroke="#000" stroke-width="0.4">0</text><text transform="matrix(1.0161 0 0 1.0629 1055.12 942.14)" font-size="14.17" fill="#000" stroke="#000" stroke-width="0.4">2</text><text transform="matrix(1.0068 0 0 1.0596 1204.99 949.80)" font-size="20.24" fill="#000" stroke="#000" stroke-width="0.4">1</text><text transform="matrix(1.0541 0 0 1.0683 1217.70 949.88)" font-size="20.24" fill="#000" stroke="#000" stroke-width="0.4">0</text><text transform="matrix(1.0124 0 0 1.0683 1230.81 942.20)" font-size="14.17" fill="#000" stroke="#000" stroke-width="0.4">3</text><text transform="matrix(1.0068 0 0 1.0596 1380.46 949.80)" font-size="20.24" fill="#000" stroke="#000" stroke-width="0.4">1</text><text transform="matrix(1.0541 0 0 1.0683 1393.17 949.88)" font-size="20.24" fill="#000" stroke="#000" stroke-width="0.4">0</text><text transform="matrix(1.0543 0 0 1.0596 1406.09 942.14)" font-size="14.17" fill="#000" stroke="#000" stroke-width="0.4">4</text><text transform="matrix(1.0068 0 0 1.0596 783.18 719.85)" font-size="20.24" fill="#000" stroke="#000" stroke-width="0.4">1</text><text transform="matrix(1.0541 0 0 1.0683 795.89 719.93)" font-size="20.24" fill="#000" stroke="#000" stroke-width="0.4">0</text><text transform="matrix(1.2884 0 0 1.1644 809.07 713.24)" font-size="14.17" fill="#000" stroke="#000" stroke-width="0.4">−</text><text transform="matrix(1.0068 0 0 1.0596 820.81 712.19)" font-size="14.17" fill="#000" stroke="#000" stroke-width="0.4">1</text><text transform="matrix(1.0741 0 0 1.0418 1128.00 978.95)" font-size="20.24" font-style="italic" fill="#000" stroke="#000" stroke-width="0.4">n</text><text transform="matrix(1.0721 0 0 1.0429 1001.95 519.79)" font-size="24.29" font-style="italic" fill="#000" stroke="#000" stroke-width="0.4">α</text><text transform="matrix(1.2884 0 0 0.8758 1023.51 519.15)" font-size="24.29" fill="#000" stroke="#000" stroke-width="0.4">=</text><text transform="matrix(1.0068 0 0 1.0596 1048.31 519.75)" font-size="24.29" fill="#000" stroke="#000" stroke-width="0.4">1</text><text transform="matrix(1.0821 0 0 1.1598 1063.13 519.75)" font-size="24.29" fill="#000" stroke="#000" stroke-width="0.4">.</text><text transform="matrix(0.9949 0 0 1.0651 1071.55 519.84)" font-size="24.29" fill="#000" stroke="#000" stroke-width="0.4">5</text><text transform="matrix(1.4577 0 0 1.0229 1084.76 519.39)" font-size="24.29" fill="#000" stroke="#000" stroke-width="0.4">,</text><text transform="matrix(1.2218 0 0 1.0408 1098.86 519.75)" font-size="24.29" font-style="italic" fill="#000" stroke="#000" stroke-width="0.4">r</text><text transform="matrix(1.2884 0 0 0.8758 1114.24 519.15)" font-size="24.29" fill="#000" stroke="#000" stroke-width="0.4">=</text><text transform="matrix(1.0541 0 0 1.0683 1138.84 519.84)" font-size="24.29" fill="#000" stroke="#000" stroke-width="0.4">0</text><text transform="matrix(1.0821 0 0 1.1598 1153.87 519.75)" font-size="24.29" fill="#000" stroke="#000" stroke-width="0.4">.</text><text transform="matrix(1.0124 0 0 1.0683 1162.29 519.84)" font-size="24.29" fill="#000" stroke="#000" stroke-width="0.4">3</text><text transform="matrix(1.4577 0 0 1.0229 1175.50 519.39)" font-size="24.29" fill="#000" stroke="#000" stroke-width="0.4">,</text><text transform="matrix(1.0027 0 0 1.0690 1189.06 519.84)" font-size="24.29" font-style="italic" fill="#000" stroke="#000" stroke-width="0.4">ℓ</text><text transform="matrix(1.2884 0 0 0.8758 1205.02 519.15)" font-size="24.29" fill="#000" stroke="#000" stroke-width="0.4">=</text><text transform="matrix(1.0068 0 0 1.0596 1229.83 519.75)" font-size="24.29" fill="#000" stroke="#000" stroke-width="0.4">1</text><text transform="matrix(1.0821 0 0 1.1598 1244.65 519.75)" font-size="24.29" fill="#000" stroke="#000" stroke-width="0.4">.</text><text transform="matrix(1.0656 0 0 1.0683 1252.06 519.84)" font-size="24.29" fill="#000" stroke="#000" stroke-width="0.4">8</text></g>
<g style="will-change:transform" transform="translate(766.30 736.67) rotate(-90)"><text transform="matrix(1.0730 0 0 1.0500 0.43 0.08)" font-size="20.24" font-style="italic" fill="#000" stroke="#000" stroke-width="0.4">ε</text><text transform="matrix(1.0340 0 0 1.0308 11.37 3.20)" font-size="14.17" font-style="italic" fill="#000" stroke="#000" stroke-width="0.4">g</text></g>
<rect x="1130.65" y="542.55" width="283.40" height="94.85" rx="4" ry="4" fill="#fff" fill-opacity="0.8" stroke="#c9c9c9" stroke-width="2.0"/>
<path d="M1138.75 558.90H1178.75" stroke="#0000ff" stroke-width="3" stroke-linecap="square"/>
<circle cx="1158.75" cy="588.60" r="4" fill="#ff0000"/>
<path d="M1138.75 618.20H1178.75" stroke="#008000" stroke-width="3" stroke-dasharray="11.17 4.83"/>
<g style="will-change:transform"><text transform="matrix(1.3365 0 0 1.0731 1194.88 565.53)" font-size="20.24" fill="#000" stroke="#000" stroke-width="0.4">t</text><text transform="matrix(1.0856 0 0 1.0485 1203.00 565.70)" font-size="20.24" fill="#000" stroke="#000" stroke-width="0.4">h</text><text transform="matrix(1.0801 0 0 1.0481 1215.70 565.78)" font-size="20.24" fill="#000" stroke="#000" stroke-width="0.4">e</text><text transform="matrix(1.0631 0 0 1.0481 1228.18 565.78)" font-size="20.24" fill="#000" stroke="#000" stroke-width="0.4">o</text><text transform="matrix(1.2812 0 0 1.0408 1240.47 565.70)" font-size="20.24" fill="#000" stroke="#000" stroke-width="0.4">r</text><text transform="matrix(1.0739 0 0 1.0259 1249.22 565.60)" font-size="20.24" fill="#000" stroke="#000" stroke-width="0.4">y</text><text transform="matrix(0.9586 0 0 1.0509 1195.31 595.48)" font-size="20.24" fill="#000" stroke="#000" stroke-width="0.4">s</text><text transform="matrix(1.0222 0 0 1.0485 1205.82 595.40)" font-size="20.24" fill="#000" stroke="#000" stroke-width="0.4">i</text><text transform="matrix(1.1394 0 0 1.0408 1211.23 595.40)" font-size="20.24" fill="#000" stroke="#000" stroke-width="0.4">m</text><text transform="matrix(1.0782 0 0 1.0672 1230.94 595.48)" font-size="20.24" fill="#000" stroke="#000" stroke-width="0.4">u</text><text transform="matrix(1.0222 0 0 1.0485 1243.98 595.40)" font-size="20.24" fill="#000" stroke="#000" stroke-width="0.4">l</text><text transform="matrix(0.8992 0 0 1.0481 1249.53 595.48)" font-size="20.24" fill="#000" stroke="#000" stroke-width="0.4">a</text><text transform="matrix(1.3365 0 0 1.0731 1261.62 595.23)" font-size="20.24" fill="#000" stroke="#000" stroke-width="0.4">t</text><text transform="matrix(1.0222 0 0 1.0485 1269.95 595.40)" font-size="20.24" fill="#000" stroke="#000" stroke-width="0.4">i</text><text transform="matrix(1.0631 0 0 1.0481 1275.26 595.48)" font-size="20.24" fill="#000" stroke="#000" stroke-width="0.4">o</text><text transform="matrix(1.0782 0 0 1.0408 1287.82 595.40)" font-size="20.24" fill="#000" stroke="#000" stroke-width="0.4">n</text><text transform="matrix(0.9586 0 0 1.0509 1300.82 595.48)" font-size="20.24" fill="#000" stroke="#000" stroke-width="0.4">s</text><text transform="matrix(1.2812 0 0 1.0408 1194.87 625.00)" font-size="20.24" fill="#000" stroke="#000" stroke-width="0.4">r</text><text transform="matrix(1.0801 0 0 1.0481 1202.81 625.08)" font-size="20.24" fill="#000" stroke="#000" stroke-width="0.4">e</text><text transform="matrix(1.0869 0 0 1.0322 1215.27 624.87)" font-size="20.24" fill="#000" stroke="#000" stroke-width="0.4">g</text><text transform="matrix(1.0782 0 0 1.0672 1228.23 625.08)" font-size="20.24" fill="#000" stroke="#000" stroke-width="0.4">u</text><text transform="matrix(1.0222 0 0 1.0485 1241.27 625.00)" font-size="20.24" fill="#000" stroke="#000" stroke-width="0.4">l</text><text transform="matrix(0.8992 0 0 1.0481 1246.82 625.08)" font-size="20.24" fill="#000" stroke="#000" stroke-width="0.4">a</text><text transform="matrix(1.2812 0 0 1.0408 1258.90 625.00)" font-size="20.24" fill="#000" stroke="#000" stroke-width="0.4">r</text><text transform="matrix(1.0222 0 0 1.0485 1267.63 625.00)" font-size="20.24" fill="#000" stroke="#000" stroke-width="0.4">i</text><text transform="matrix(1.0715 0 0 1.0351 1272.72 625.00)" font-size="20.24" fill="#000" stroke="#000" stroke-width="0.4">z</text><text transform="matrix(1.0801 0 0 1.0481 1283.54 625.08)" font-size="20.24" fill="#000" stroke="#000" stroke-width="0.4">e</text><text transform="matrix(1.0869 0 0 1.0539 1295.99 625.08)" font-size="20.24" fill="#000" stroke="#000" stroke-width="0.4">d</text><text transform="matrix(0.8914 0 0 1.0683 1315.60 625.08)" font-size="20.24" fill="#000" stroke="#000" stroke-width="0.4">S</text><text transform="matrix(1.0148 0 0 1.0596 1328.00 625.00)" font-size="20.24" fill="#000" stroke="#000" stroke-width="0.4">V</text><text transform="matrix(0.9971 0 0 1.0596 1342.11 625.00)" font-size="20.24" fill="#000" stroke="#000" stroke-width="0.4">M</text><text transform="matrix(1.2812 0 0 1.0408 1365.79 625.00)" font-size="20.24" fill="#000" stroke="#000" stroke-width="0.4">r</text><text transform="matrix(0.8992 0 0 1.0481 1374.44 625.08)" font-size="20.24" fill="#000" stroke="#000" stroke-width="0.4">a</text><text transform="matrix(1.3365 0 0 1.0731 1386.53 624.83)" font-size="20.24" fill="#000" stroke="#000" stroke-width="0.4">t</text><text transform="matrix(1.0801 0 0 1.0481 1394.52 625.08)" font-size="20.24" fill="#000" stroke="#000" stroke-width="0.4">e</text></g>
</svg></body></html>
